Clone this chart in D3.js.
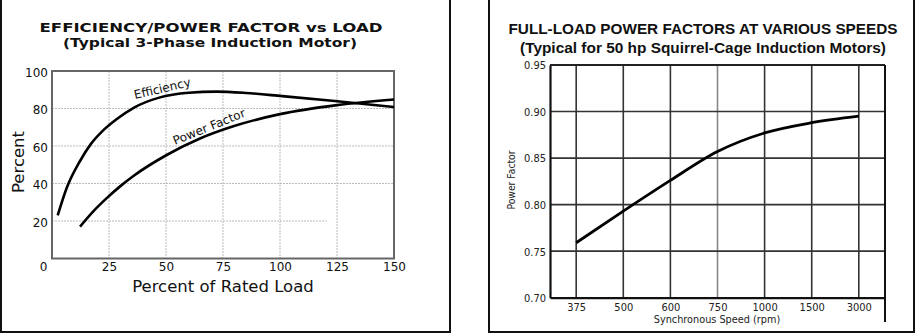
<!DOCTYPE html>
<html>
<head>
<meta charset="utf-8">
<script src="https://cdn.jsdelivr.net/npm/d3@7"></script>
<style>
html,body{margin:0;padding:0;background:#fff;}
svg{display:block;}
</style>
</head>
<body>
<svg id="c" width="916" height="334"></svg>
<script>
// ---------- Left chart data ----------
const loadTicks = [0, 25, 50, 75, 100, 125, 150];
const percentTicks = [20, 40, 60, 80, 100];
const effLoad = [2.5, 6.4, 12.3, 17, 22, 28, 36, 47, 60, 72, 85, 101, 124, 150];
const effPct  = [23, 37.5, 52, 61, 67.8, 74, 80.5, 85.8, 88.4, 89, 88.3, 86.6, 84, 80.8];
const pfLoad  = [12.3, 18, 24, 30, 35.7, 50.3, 64.9, 79.5, 100, 125, 150];
const pfPct   = [17, 25, 32.2, 38.6, 44, 55.2, 64, 70.5, 77, 81.8, 84.8];

// ---------- Right chart data ----------
const speeds = ["375", "500", "600", "750", "1000", "1500", "3000"];
const powerFactors = [0.759, 0.793, 0.826, 0.857, 0.877, 0.888, 0.895];
const pfTicks = [0.70, 0.75, 0.80, 0.85, 0.90, 0.95];

const svg = d3.select("#c");

// panel frames
svg.append("path").attr("d", "M1,0V332H450V0").attr("fill", "none").attr("stroke", "#111").attr("stroke-width", 2);
svg.append("path").attr("d", "M489,0V332H914V0").attr("fill", "none").attr("stroke", "#111").attr("stroke-width", 2);

// ================= LEFT CHART =================
const L = svg.append("g");
const x1 = d3.scaleLinear().domain([0, 150]).range([52, 394]);
const y1 = d3.scaleLinear().domain([0, 100]).range([258.5, 71]);

L.append("text").attr("x", 211).attr("y", 32).attr("text-anchor", "middle")
  .attr("font-family", "DejaVu Sans").attr("font-weight", "bold").attr("font-size", 12.8)
  .attr("textLength", 343).attr("lengthAdjust", "spacingAndGlyphs").attr("fill", "#111")
  .text("EFFICIENCY/POWER FACTOR vs LOAD");
L.append("text").attr("x", 210).attr("y", 47).attr("text-anchor", "middle")
  .attr("font-family", "DejaVu Sans").attr("font-weight", "bold").attr("font-size", 12.8)
  .attr("textLength", 294).attr("lengthAdjust", "spacingAndGlyphs").attr("fill", "#111")
  .text("(Typical 3-Phase Induction Motor)");

// gridlines
L.selectAll(".vg").data(loadTicks.slice(1, -1)).join("line")
  .attr("x1", d => x1(d)).attr("x2", d => x1(d)).attr("y1", y1(100)).attr("y2", y1(0))
  .attr("stroke", "#bbb").attr("stroke-width", 1).attr("stroke-dasharray", "2,1");
L.selectAll(".hg").data(percentTicks.slice(0, -1)).join("line")
  .attr("x1", x1(0)).attr("x2", d => d === 20 ? x1(120.5) : x1(150))
  .attr("y1", d => y1(d)).attr("y2", d => y1(d))
  .attr("stroke", "#bbb").attr("stroke-width", 1).attr("stroke-dasharray", "2,1");

// frame
L.append("rect").attr("x", x1(0)).attr("y", y1(100)).attr("width", x1(150) - x1(0)).attr("height", y1(0) - y1(100))
  .attr("fill", "none").attr("stroke", "#666").attr("stroke-width", 2);

// axes via d3
const xAxis1 = d3.axisBottom(x1).tickValues(loadTicks).tickSize(0).tickPadding(0);
const gx1 = L.append("g").attr("transform", `translate(0,${y1(0)})`).call(xAxis1);
gx1.select(".domain").remove();
gx1.selectAll("text").attr("font-family", "DejaVu Sans").attr("font-size", 12).attr("fill", "#111")
  .attr("dy", null).attr("y", 12.5)
  .attr("dx", d => d === 0 ? -9 : 0);

const yAxis1 = d3.axisLeft(y1).tickValues(percentTicks).tickSize(0).tickPadding(4);
const gy1 = L.append("g").attr("transform", `translate(${x1(0)},0)`).call(yAxis1);
gy1.select(".domain").remove();
gy1.selectAll("text").attr("font-family", "DejaVu Sans").attr("font-size", 12).attr("fill", "#111")
  .attr("dy", "0.45em");

L.append("text").attr("transform", "translate(24,162) rotate(-90)").attr("text-anchor", "middle")
  .attr("font-family", "DejaVu Sans").attr("font-size", 16.5).attr("fill", "#111").text("Percent");
L.append("text").attr("x", 223).attr("y", 292).attr("text-anchor", "middle")
  .attr("font-family", "DejaVu Sans").attr("font-size", 16.5).attr("fill", "#111").text("Percent of Rated Load");

const line1 = d3.line().x(d => x1(d[0])).y(d => y1(d[1])).curve(d3.curveMonotoneX);
L.append("path").datum(d3.zip(effLoad, effPct)).attr("d", line1)
  .attr("fill", "none").attr("stroke", "#000").attr("stroke-width", 2.6);
L.append("path").datum(d3.zip(pfLoad, pfPct)).attr("d", line1)
  .attr("fill", "none").attr("stroke", "#000").attr("stroke-width", 2.6);

L.append("text").attr("transform", "translate(135,99) rotate(-13)")
  .attr("font-family", "DejaVu Sans").attr("font-size", 12).attr("fill", "#111").text("Efficiency");
L.append("text").attr("transform", "translate(175,145) rotate(-22)")
  .attr("font-family", "DejaVu Sans").attr("font-size", 12).attr("fill", "#111").text("Power Factor");

// ================= RIGHT CHART =================
const R = svg.append("g");
const x2 = d3.scalePoint().domain(speeds).range([550, 885]).padding(0.556);
const y2 = d3.scaleLinear().domain([0.70, 0.95]).range([297.7, 65]);

R.append("text").attr("x", 703).attr("y", 34).attr("text-anchor", "middle")
  .attr("font-family", "Liberation Sans").attr("font-weight", "bold").attr("font-size", 15)
  .attr("textLength", 389).attr("lengthAdjust", "spacingAndGlyphs").attr("fill", "#111")
  .text("FULL-LOAD POWER FACTORS AT VARIOUS SPEEDS");
R.append("text").attr("x", 703).attr("y", 53).attr("text-anchor", "middle")
  .attr("font-family", "Liberation Sans").attr("font-weight", "bold").attr("font-size", 15)
  .attr("textLength", 366).attr("lengthAdjust", "spacingAndGlyphs").attr("fill", "#111")
  .text("(Typical for 50 hp Squirrel-Cage Induction Motors)");

// gridlines
R.selectAll(".vg2").data(speeds).join("line")
  .attr("x1", d => x2(d)).attr("x2", d => x2(d)).attr("y1", y2(0.95)).attr("y2", y2(0.70))
  .attr("stroke", d => d === "750" ? "#888" : "#333").attr("stroke-width", 1.6);
R.selectAll(".hg2").data(pfTicks.slice(1, -1)).join("line")
  .attr("x1", 550).attr("x2", 885).attr("y1", d => y2(d)).attr("y2", d => y2(d))
  .attr("stroke", "#333").attr("stroke-width", 1.6);

// frame
R.append("line").attr("x1", 550).attr("x2", 885).attr("y1", y2(0.95)).attr("y2", y2(0.95)).attr("stroke", "#222").attr("stroke-width", 2);
R.append("line").attr("x1", 885).attr("x2", 885).attr("y1", y2(0.95)).attr("y2", 322).attr("stroke", "#111").attr("stroke-width", 2);

const xAxis2 = d3.axisBottom(x2).tickSize(0).tickPadding(0);
const gx2 = R.append("g").attr("transform", `translate(0,${y2(0.70)})`).call(xAxis2);
gx2.select(".domain").attr("stroke", "#111").attr("stroke-width", 2.2);
gx2.selectAll("text").attr("font-family", "DejaVu Sans Condensed").attr("font-size", 11).attr("fill", "#222")
  .attr("dy", null).attr("y", 13);

const yAxis2 = d3.axisLeft(y2).tickValues(pfTicks).tickFormat(d3.format(".2f")).tickSize(0).tickPadding(4);
const gy2 = R.append("g").attr("transform", "translate(550,0)").call(yAxis2);
gy2.select(".domain").attr("stroke", "#111").attr("stroke-width", 2.2);
gy2.selectAll("text").attr("font-family", "DejaVu Sans Condensed").attr("font-size", 11).attr("fill", "#222")
  .attr("dy", "0.35em");

R.append("text").attr("transform", "translate(515,180) rotate(-90)").attr("text-anchor", "middle")
  .attr("font-family", "DejaVu Sans Condensed").attr("font-size", 10.3).attr("fill", "#222").text("Power Factor");
R.append("text").attr("x", 717).attr("y", 322.5).attr("text-anchor", "middle")
  .attr("font-family", "DejaVu Sans Condensed").attr("font-size", 10.8).attr("fill", "#222").text("Synchronous Speed (rpm)");

const line2 = d3.line().x((d, i) => x2(speeds[i])).y(d => y2(d)).curve(d3.curveMonotoneX);
R.append("path").datum(powerFactors).attr("d", line2)
  .attr("fill", "none").attr("stroke", "#000").attr("stroke-width", 2.8);
</script>
</body>
</html>
